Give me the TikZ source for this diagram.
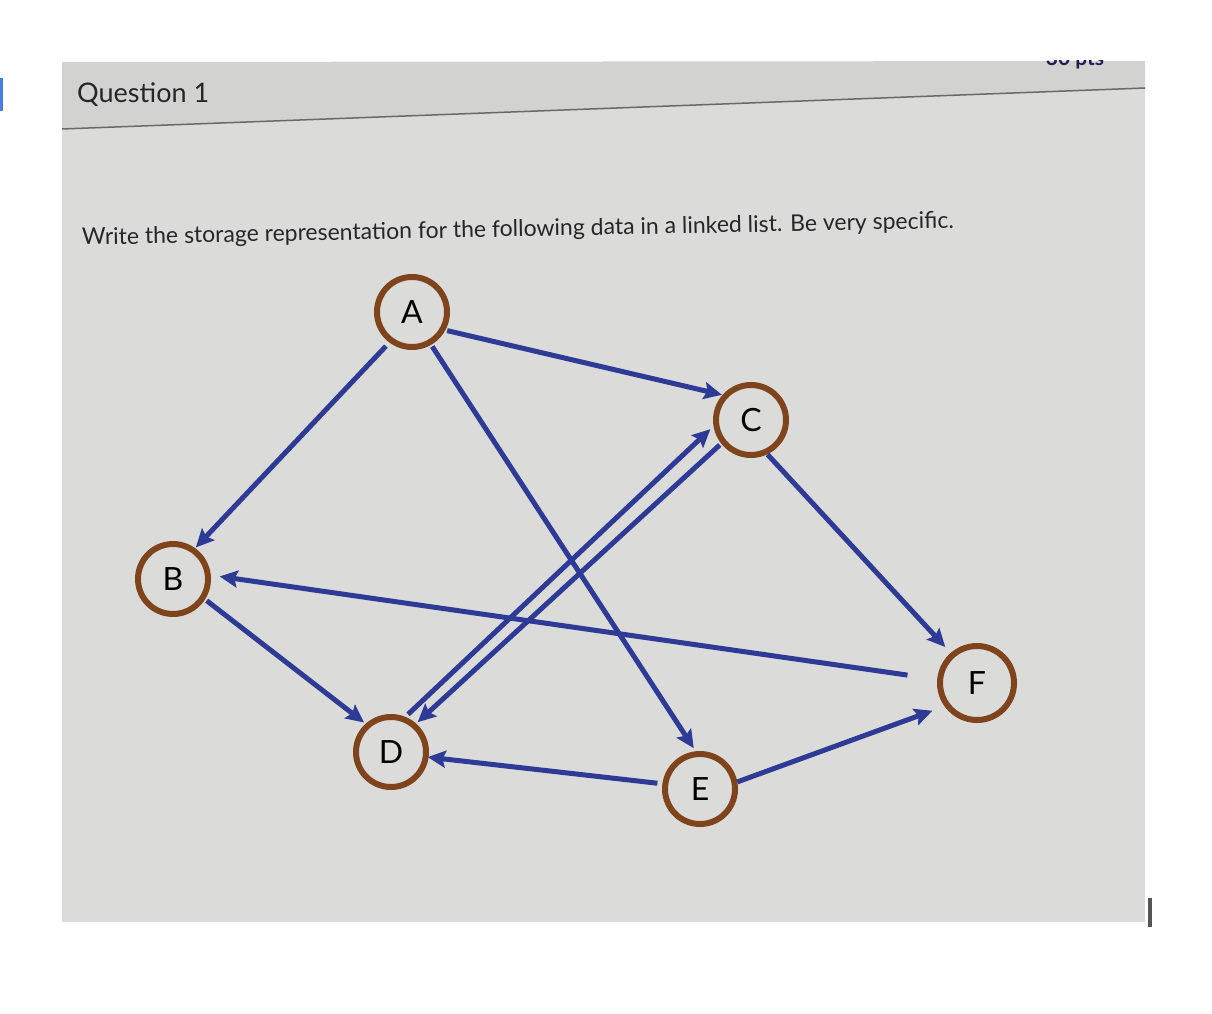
\documentclass[tikz,border=0pt]{standalone}
\usepackage{fontspec}
\setmainfont{Lato}
\usetikzlibrary{arrows.meta}
\definecolor{edgeblue}{RGB}{45,58,150}
\definecolor{ringbrown}{RGB}{128,68,28}
\definecolor{panelgrey}{RGB}{219,220,217}
\definecolor{headgrey}{RGB}{210,211,208}
\definecolor{rulegrey}{RGB}{105,106,104}
\definecolor{inkgrey}{RGB}{38,38,42}
\definecolor{accentblue}{RGB}{70,125,230}
\definecolor{barDark}{RGB}{85,85,85}
\begin{document}
\begin{tikzpicture}[x=1pt,y=-1pt,
  vertex/.style={circle,draw=ringbrown,line width=6pt,minimum size=70pt,inner sep=0pt,outer sep=0pt,
                 font=\fontsize{32}{32}\selectfont,text=black},
  link/.style={draw=edgeblue,line width=5pt,-{Stealth[length=18pt,width=17pt,inset=3pt]}},
  label text/.style={text=inkgrey,inner sep=0pt}
 ]
\useasboundingbox[fill=white] (0,0) rectangle (1212,1014);
% panel
\fill[panelgrey] (62,62) rectangle (1145,922);
\fill[headgrey] (62,62) -- (1145,61) -- (1145,88) -- (62,129) -- cycle;
\draw[rulegrey,line width=1.5pt] (62,129) -- (1145,88);
\fill[accentblue] (0,78) rectangle (3,111);
\fill[barDark] (1148,898) rectangle (1152,927);
% cut-off points label
\begin{scope}
  \clip (1000,61) rectangle (1145,80);
  \node[label text,anchor=base,font=\fontsize{21}{21}\selectfont\bfseries,text=inkgrey!80!blue] (pts) at (1075,66) {30 pts};
\end{scope}
% texts
\node[label text,anchor=base west,font=\fontsize{27}{27}\selectfont] (title) at (77,103) {Question 1};
\node[label text,anchor=base west,rotate=1.1,font=\fontsize{23}{23}\selectfont] (prompt) at (82,245)
  {Write the storage representation for the following data in a linked list. Be very specific.};
% vertices
\node[vertex] (A) at (412,312) {A};
\node[vertex] (B) at (173,579) {B};
\node[vertex] (C) at (751,420) {C};
\node[vertex] (D) at (391,752) {D};
\node[vertex] (E) at (700,789) {E};
\node[vertex,minimum size=74pt] (F) at (977,683) {F};
% links
\draw[link,shorten <=5pt,shorten >=4pt] (A.330) -- (C.136);
\draw[link,shorten <=8pt,shorten >=4pt] (A.234.5) -- (B.55.5);
\draw[link,shorten <=5pt,shorten >=7pt] (A.300) -- (E.94);
\draw[link,shorten <=3.5pt,shorten >=11pt] (C.294.6) -- (F.131.6);
\draw[link,shorten <=33pt,shorten >=12pt] (F.175) -- (B.7.3);
\draw[link,shorten <=5pt,shorten >=5pt] (B.328) -- (D.131);
\draw[link,shorten <=7pt,shorten >=8pt] (D.70.7) -- (C.186.6);
\draw[link,shorten <=5pt,shorten >=5pt] (C.218.9) -- (D.49);
\draw[link,shorten <=8pt,shorten >=2pt] (E.172) -- (D.352);
\draw[link,shorten <=3pt,shorten >=16pt] (E.10.7) -- (F.217);
\end{tikzpicture}
\end{document}
